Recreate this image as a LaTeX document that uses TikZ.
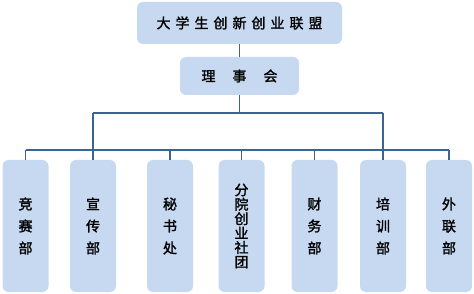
\documentclass[tikz,border=0pt]{standalone}
\usepackage{fontspec}
\newfontfamily\cjk{Noto Sans CJK SC}[FakeBold=1.6]
\definecolor{boxblue}{HTML}{C6D9F1}
\definecolor{linkblue}{HTML}{3D6391}
\begin{document}
\begin{tikzpicture}[x=1pt,y=-1pt,
  box/.style={fill=boxblue, draw=none, rounded corners=6pt, inner sep=0pt},
  dept/.style={box, minimum width=46pt, minimum height=132pt, align=center,
    font=\cjk\fontsize{14}{22}\selectfont},
  link/.style={draw=linkblue, line width=1.6pt}]
\useasboundingbox (0,0) rectangle (474,294);
\node[box, minimum width=205pt, minimum height=42pt, font=\cjk\fontsize{14}{16}\selectfont] (top) at (239.5,23)
  {大\hspace{5pt}学\hspace{5pt}生\hspace{5pt}创\hspace{5pt}新\hspace{5pt}创\hspace{5pt}业\hspace{5pt}联\hspace{5pt}盟};
\node[box, minimum width=119pt, minimum height=38pt, font=\cjk\fontsize{14}{16}\selectfont] (mid) at (239.5,76)
  {理\hspace{17pt}事\hspace{17pt}会};
\node[dept] (d1) at (25.5,226) {竞\\赛\\部};
\node[dept] (d2) at (93,226) {宣\\传\\部};
\node[dept] (d3) at (170,226) {秘\\书\\处};
\node[dept, font=\cjk\fontsize{14}{14.4}\selectfont] (d4) at (241.5,226) {分\\院\\创\\业\\社\\团};
\node[dept] (d5) at (314.5,226) {财\\务\\部};
\node[dept] (d6) at (383,226) {培\\训\\部};
\node[dept] (d7) at (449,226) {外\\联\\部};
\coordinate (ub) at (240,113);
\coordinate (lb) at (240,150);
\draw[link] (top.south) -- (mid.north);
\draw[link] (mid.south) -- (mid.south |- ub);
\draw[link] (d2.north |- ub) -- (d6.north |- ub);
\draw[link] (d2.north |- ub) -- (d2.north);
\draw[link] (d6.north |- ub) -- (d6.north);
\draw[link] (d1.north |- lb) -- (d7.north |- lb);
\foreach \i in {1,3,4,5,7} {\draw[link] (d\i.north |- lb) -- (d\i.north);}
\end{tikzpicture}
\end{document}
